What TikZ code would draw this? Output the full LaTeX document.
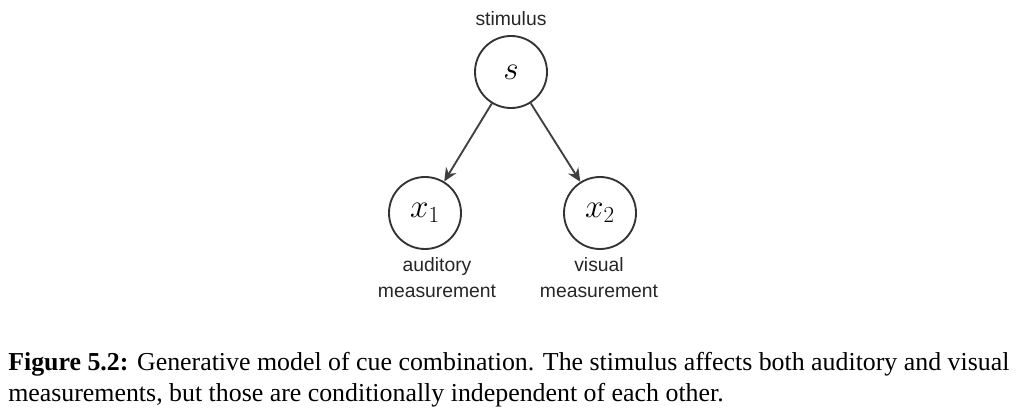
\documentclass[tikz,border=0pt]{standalone}
\usepackage{fontspec}
\setmainfont{Liberation Serif}
\setsansfont{Liberation Sans}
\usetikzlibrary{arrows.meta}
\begin{document}
\begin{tikzpicture}[x=0.75pt,y=-0.75pt,
  var/.style={circle,draw=black!80,line width=1.4pt,minimum size=54pt,inner sep=0pt,font=\fontsize{24}{24}\selectfont},
  lab/.style={font=\sffamily\fontsize{14.5}{19}\selectfont,align=center,text=black!85},
  edge/.style={-{Stealth[length=10pt,width=9pt]},line width=1.4pt,draw=black!75},
  captext/.style={anchor=base west,inner sep=0pt,font=\fontsize{19.4}{23}\selectfont}]
\useasboundingbox (0,0) rectangle (1023,417);
\node[var] (s) at (511,72) {$s$};
\node[var] (x1) at (425,213) {$x_1$};
\node[var] (x2) at (600,213) {$x_2$};
\node[lab] (ls) at (511,19) {stimulus};
\node[lab,anchor=north] (l1) at (437,253) {auditory\\measurement};
\node[lab,anchor=north] (l2) at (599,253) {visual\\measurement};
\draw[edge] (s) -- (x1);
\draw[edge] (s) -- (x2);
\node[captext] (c1) at (8,370) {\textbf{Figure 5.2:} Generative model of cue combination. The stimulus affects both auditory and visual};
\node[captext] (c2) at (8,401) {measurements, but those are conditionally independent of each other.};
\end{tikzpicture}
\end{document}
